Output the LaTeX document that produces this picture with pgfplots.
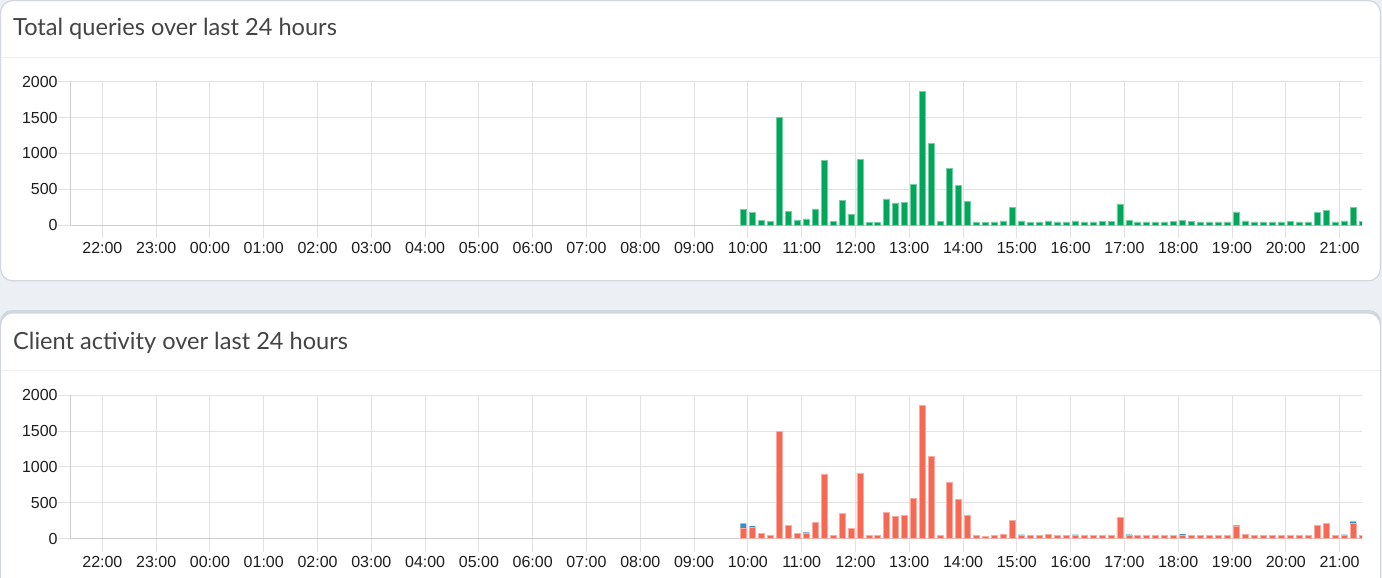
\documentclass[border=0pt]{standalone}
\usepackage{fontspec}
\setmainfont{Liberation Sans}
\newfontfamily\titlefont{Lato}
\usepackage{pgfplots}
\usepackage{pgfplotstable}
\pgfplotsset{compat=1.18}

\definecolor{pagebg}{HTML}{ECEFF4}
\definecolor{cardline}{HTML}{D2D6DE}
\definecolor{headsep}{HTML}{F0F0F0}
\definecolor{titlegray}{HTML}{444444}
\definecolor{gridgray}{HTML}{E2E2E2}
\definecolor{basegray}{HTML}{CCCCCC}
\definecolor{ticktext}{HTML}{1E1E1E}
\definecolor{qgreen}{HTML}{00A65A}
\definecolor{cred}{HTML}{F56954}
\definecolor{cblue}{HTML}{3C8DBC}
\definecolor{ccyan}{HTML}{8ED3E6}

% t = minutes after 22:00 of the day before (bar centre), q = all queries,
% r/b/c = the three clients stacked in the lower chart
\pgfplotstableread{
t    q     r     b   c
715  215   143   62  10
725  173   153   20  0
735  65    65    0   0
745  47    47    0   0
755  1500  1500  0   0
765  187   187   0   0
775  70    70    0   0
785  84    66    18  0
795  224   224   0   0
805  901   901   0   0
815  47    47    0   0
825  346   346   0   0
835  145   145   0   0
845  915   905   0   10
855  37    37    0   0
865  37    37    0   0
875  364   364   0   0
885  308   308   0   0
895  318   318   0   0
905  565   555   10  0
915  1860  1860  0   0
925  1144  1144  0   0
935  47    47    0   0
945  785   785   0   0
955  546   546   0   0
965  331   321   0   10
975  42    42    0   0
985  33    33    0   0
995  42    42    0   0
1005 56    56    0   0
1015 247   247   0   0
1025 56    42    0   14
1035 37    37    0   0
1045 42    42    0   0
1055 56    56    0   0
1065 42    42    0   0
1075 42    42    0   0
1085 56    42    0   14
1095 42    42    0   0
1105 42    42    0   0
1115 47    47    0   0
1125 47    47    0   0
1135 294   294   0   0
1145 61    47    0   14
1155 42    42    0   0
1165 42    42    0   0
1175 42    42    0   0
1185 42    42    0   0
1195 47    47    0   0
1205 61    42    19  0
1215 47    47    0   0
1225 42    42    0   0
1235 42    42    0   0
1245 42    42    0   0
1255 42    42    0   0
1265 182   167   15  0
1275 56    56    0   0
1285 42    42    0   0
1295 42    42    0   0
1305 42    42    0   0
1315 42    42    0   0
1325 47    42    0   5
1335 42    42    0   0
1345 42    42    0   0
1355 177   177   0   0
1365 205   205   0   0
1375 42    42    0   0
1385 56    37    0   19
1395 247   204   33  10
1405 47    47    0   0
}\hourdata

\pgfplotsset{
  hourly/.style={
    scale only axis, width=645.5pt, height=71.65pt,
    xmin=-35, xmax=1405, ymin=0, ymax=2000,
    axis lines*=left,
    axis line style={draw=basegray, line width=0.5pt},
    xtick={0,60,...,1380},
    xticklabels={22:00,23:00,00:00,01:00,02:00,03:00,04:00,05:00,06:00,07:00,08:00,09:00,
                 10:00,11:00,12:00,13:00,14:00,15:00,16:00,17:00,18:00,19:00,20:00,21:00},
    ytick={0,500,...,2000},
    grid=major,
    major grid style={draw=gridgray, line width=0.5pt},
    tick align=outside, major tick length=6.5pt,
    major tick style={draw=gridgray, line width=0.5pt},
    /pgf/number format/assume math mode=true,
    /pgf/number format/1000 sep={},
    scaled y ticks=false,
    tick label style={font=\fontsize{8}{9}\selectfont, text=ticktext},
    yticklabel style={inner xsep=0pt},
    xticklabel style={inner ysep=2pt},
  },
}

\begin{document}
\begin{tikzpicture}
  \fill[pagebg] (0,0) rectangle (691pt,-289pt);
  \begin{scope}
    \clip (0,0) rectangle (691pt,-289pt);

    % card 1
    \filldraw[fill=white, draw=cardline, line width=0.6pt, rounded corners=6pt]
      (0.3pt,-0.3pt) rectangle (690.2pt,-140.4pt);
    \draw[headsep, line width=0.5pt] (0.6pt,-28.5pt) -- (689.9pt,-28.5pt);
    \node[anchor=base west, inner sep=0pt, text=titlegray,
          font=\titlefont\fontsize{11.8}{14}\selectfont]
      at (6.4pt,-17.9pt) {Total queries over last 24 hours};

    % card 2
    \fill[cardline, rounded corners=6pt] (0pt,-155pt) rectangle (690.5pt,-300pt);
    \fill[white, rounded corners=6pt] (0.6pt,-156.8pt) rectangle (689.9pt,-300pt);
    \draw[headsep, line width=0.5pt] (0.6pt,-185.25pt) -- (689.9pt,-185.25pt);
    \node[anchor=base west, inner sep=0pt, text=titlegray,
          font=\titlefont\fontsize{11.8}{14}\selectfont]
      at (6.4pt,-174.65pt) {Client activity over last 24 hours};

    \begin{axis}[hourly, at={(35.5pt,-112.5pt)}, anchor=south west]
      \addplot[ybar, bar width=6.7, fill=qgreen, draw=qgreen!55!white, line width=0.4pt]
        table[x=t, y=q] {\hourdata};
    \end{axis}

    \begin{axis}[hourly, ybar stacked, bar width=6.7, at={(35.5pt,-269.25pt)}, anchor=south west]
      \addplot[fill=cred, draw=cred!55!white, line width=0.4pt] table[x=t, y=r] {\hourdata};
      \addplot[fill=cblue, draw=none] table[x=t, y=b] {\hourdata};
      \addplot[fill=ccyan, draw=none] table[x=t, y=c] {\hourdata};
    \end{axis}
  \end{scope}
  \pgfresetboundingbox
  \useasboundingbox (0,0) rectangle (691pt,-289pt);
\end{tikzpicture}
\end{document}
